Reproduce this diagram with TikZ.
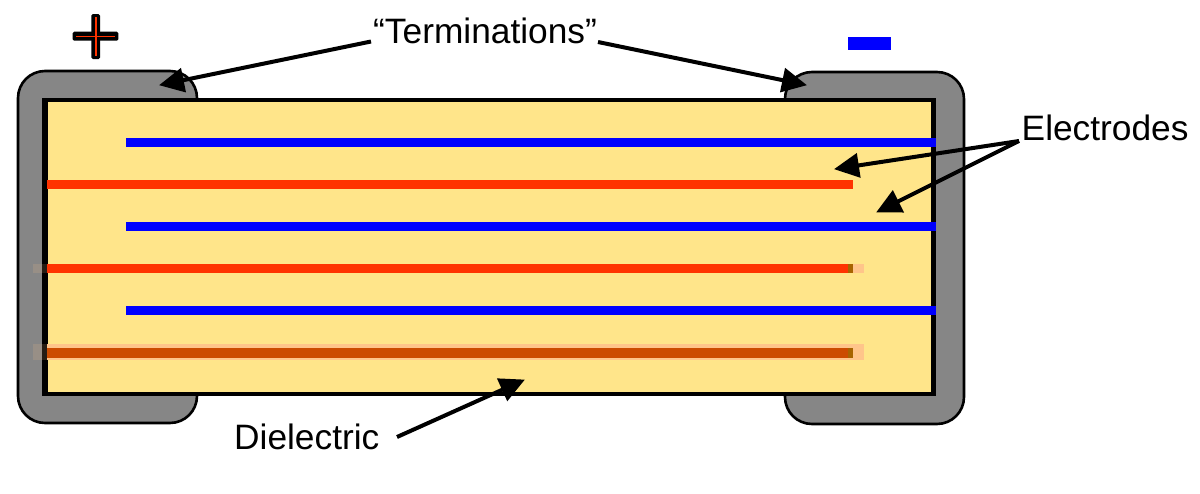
\documentclass[tikz,border=0pt]{standalone}
\usepackage{fontspec}
\setmainfont{Liberation Sans}
\usetikzlibrary{arrows.meta}
\definecolor{termgray}{HTML}{868686}
\definecolor{dielec}{HTML}{FFE58A}
\definecolor{elblue}{HTML}{0000FF}
\definecolor{elred}{HTML}{FF3300}
\definecolor{elbrown}{HTML}{CC4C00}
\definecolor{halo}{HTML}{FFC58A}
\definecolor{tipdark}{HTML}{A86400}
\tikzset{
  x=1pt,y=-1pt,
  term/.style={fill=termgray,draw=black,line width=2.6pt,rounded corners=27pt},
  plate/.style={fill=#1,draw=none},
  lbl/.style={inner sep=0pt,font=\fontsize{35.3}{40}\selectfont,text=black},
  pointer/.style={draw=black,line width=4pt,-{Triangle[length=25pt,width=24pt]},shorten >=-1pt},
}
\begin{document}
\begin{tikzpicture}
\useasboundingbox (0,0) rectangle (1200,493);
\fill[white] (0,0) rectangle (1200,493);
% terminations
\draw[term] (18,200) -- (18,71) -- (197,71) -- (197,423) -- (18,423) -- cycle;
\draw[term] (785,200) -- (785,72) -- (964,72) -- (964,424) -- (785,424) -- cycle;
% body
\fill[dielec,draw=none] (45,100) rectangle (934,394);
\draw[black,line width=3.2pt] (42.3,100) -- (936,100);
\draw[black,line width=3.2pt] (42.3,394) -- (936,394);
\draw[black,line width=6pt] (45.3,98.4) -- (45.3,395.6);
\draw[black,line width=5pt] (933.5,98.4) -- (933.5,395.6);
% blue plates
\fill[plate=elblue] (126,137.5) rectangle (936,146.5);
\fill[plate=elblue] (126,221.5) rectangle (936,230.5);
\fill[plate=elblue] (126,305.5) rectangle (936,314.5);
% red plates
\fill[plate=elred] (47,179.5) rectangle (853,188.5);
\fill[plate=halo,opacity=.15] (33,263.5) rectangle (47,272.5);
\fill[plate=halo] (853,263.5) rectangle (864,272.5);
\fill[plate=elred] (47,263.5) rectangle (848,272.5);
\fill[plate=tipdark] (848,263.5) rectangle (853,272.5);
\fill[plate=halo,opacity=.15] (33,344) rectangle (47,360);
\fill[plate=halo] (47,344) rectangle (864,360);
\fill[plate=elbrown] (47,347.5) rectangle (848,357.5);
\fill[plate=tipdark] (848,347.5) rectangle (853,357.5);
% polarity
\fill[black,rounded corners=1.5pt] (91.3,14) rectangle (100,59);
\fill[black,rounded corners=1.5pt] (72.7,31.7) rectangle (118.3,40.7);
\draw[elred,line width=1.8pt] (95.6,17) -- (95.6,56);
\draw[elred,line width=.9pt] (76,36.2) -- (115,36.2);
\fill[elblue] (848,37) rectangle (890.5,49.5);
% labels
\node[lbl,anchor=base west] (term) at (373,43) {“Terminations”};
\node[lbl,anchor=base west] (elec) at (1021.5,140) {Electrodes};
\node[lbl,anchor=base west] (diel) at (234,449.5) {Dielectric};
% pointer targets
\coordinate (tl) at (160,85);
\coordinate (tr) at (806,85);
\coordinate (e1) at (835,169);
\coordinate (e2) at (877,212);
\coordinate (d1) at (524,380);
\coordinate (sl) at (371,41.5);
\coordinate (sr) at (598,42);
\coordinate (se) at (1019,141);
\coordinate (sd) at (397,437);
\draw[pointer] (sl) -- (tl);
\draw[pointer] (sr) -- (tr);
\draw[pointer] (se) -- (e1);
\draw[pointer] (se) -- (e2);
\draw[pointer] (sd) -- (d1);
\end{tikzpicture}
\end{document}
